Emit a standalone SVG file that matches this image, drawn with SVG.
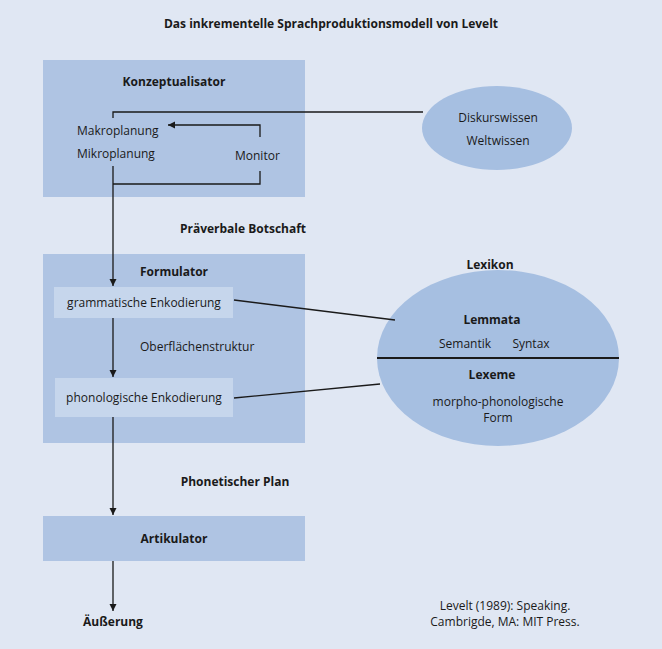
<svg xmlns="http://www.w3.org/2000/svg" width="662" height="649" viewBox="0 0 662 649">
<style>
text{font-family:"Open Sans","Liberation Sans",sans-serif;font-size:12px;fill:#1a1a1a}
.b{font-weight:bold}
.m{text-anchor:middle}
.box{fill:#afc4e3}
.in{fill:#c6d6ec}
.ell{fill:#a6bfe1}
.ln{stroke:#1a1a1a;stroke-width:1.3;fill:none}
</style>
<defs><marker id="a" markerWidth="8" markerHeight="8" refX="7" refY="4" orient="auto" markerUnits="userSpaceOnUse"><path d="M0,0.5 L7,4 L0,7.5Z" fill="#1a1a1a"/></marker></defs>
<rect width="662" height="649" fill="#e0e7f3"/>
<text class="b m" x="331" y="28">Das inkrementelle Sprachproduktionsmodell von Levelt</text>
<g id="konzeptualisator"><rect class="box" x="43" y="60" width="262" height="137"/>
<text class="b m" x="174" y="86">Konzeptualisator</text>
<text x="77" y="135">Makroplanung</text><text x="77" y="158">Mikroplanung</text><text x="235" y="160">Monitor</text></g>
<g id="wissen"><ellipse class="ell" cx="497" cy="128" rx="75" ry="42"/>
<text class="m" x="498" y="122">Diskurswissen</text><text class="m" x="498" y="145">Weltwissen</text></g>
<text class="b m" x="243" y="233">Präverbale Botschaft</text>
<g id="formulator"><rect class="box" x="43" y="254" width="262" height="189"/>
<text class="b m" x="174" y="276">Formulator</text>
<text x="140" y="351">Oberflächenstruktur</text></g>
<g id="grammatisch"><rect class="in" x="54" y="287" width="179" height="31"/><text class="m" x="144" y="307">grammatische Enkodierung</text></g>
<g id="phonologisch"><rect class="in" x="55" y="378" width="178" height="39"/><text class="m" x="144" y="402">phonologische Enkodierung</text></g>
<g id="lexikon"><text class="b m" x="490" y="269">Lexikon</text>
<ellipse class="ell" cx="498" cy="358" rx="121" ry="88"/>
<line x1="377" y1="358" x2="619" y2="358" stroke="#1a1a1a" stroke-width="2"/>
<text class="b m" x="492" y="324">Lemmata</text>
<text class="m" x="465" y="348">Semantik</text><text class="m" x="531" y="348">Syntax</text>
<text class="b m" x="492" y="379">Lexeme</text>
<text class="m" x="498" y="406">morpho-phonologische</text><text class="m" x="498" y="422">Form</text></g>
<text class="b m" x="235" y="486">Phonetischer Plan</text>
<g id="artikulator"><rect class="box" x="43" y="516" width="262" height="45"/><text class="b m" x="174" y="543">Artikulator</text></g>
<text class="b m" x="113" y="626">Äußerung</text>
<text class="m" x="505" y="610">Levelt (1989): Speaking.</text>
<text class="m" x="505" y="626">Cambrigde, MA: MIT Press.</text>
<g id="connectors">
<path class="ln" d="M423,112 H113 V118"/>
<path class="ln" d="M260,137 V125 H168" marker-end="url(#a)"/>
<path class="ln" d="M113,166 V286" marker-end="url(#a)"/>
<path class="ln" d="M113,184 H260 V171"/>
<path class="ln" d="M113,318 V377" marker-end="url(#a)"/>
<path class="ln" d="M113,417 V515" marker-end="url(#a)"/>
<path class="ln" d="M113,561 V611" marker-end="url(#a)"/>
<path class="ln" d="M234,300 L395,320"/>
<path class="ln" d="M234,398 L380,384"/>
</g>
</svg>
